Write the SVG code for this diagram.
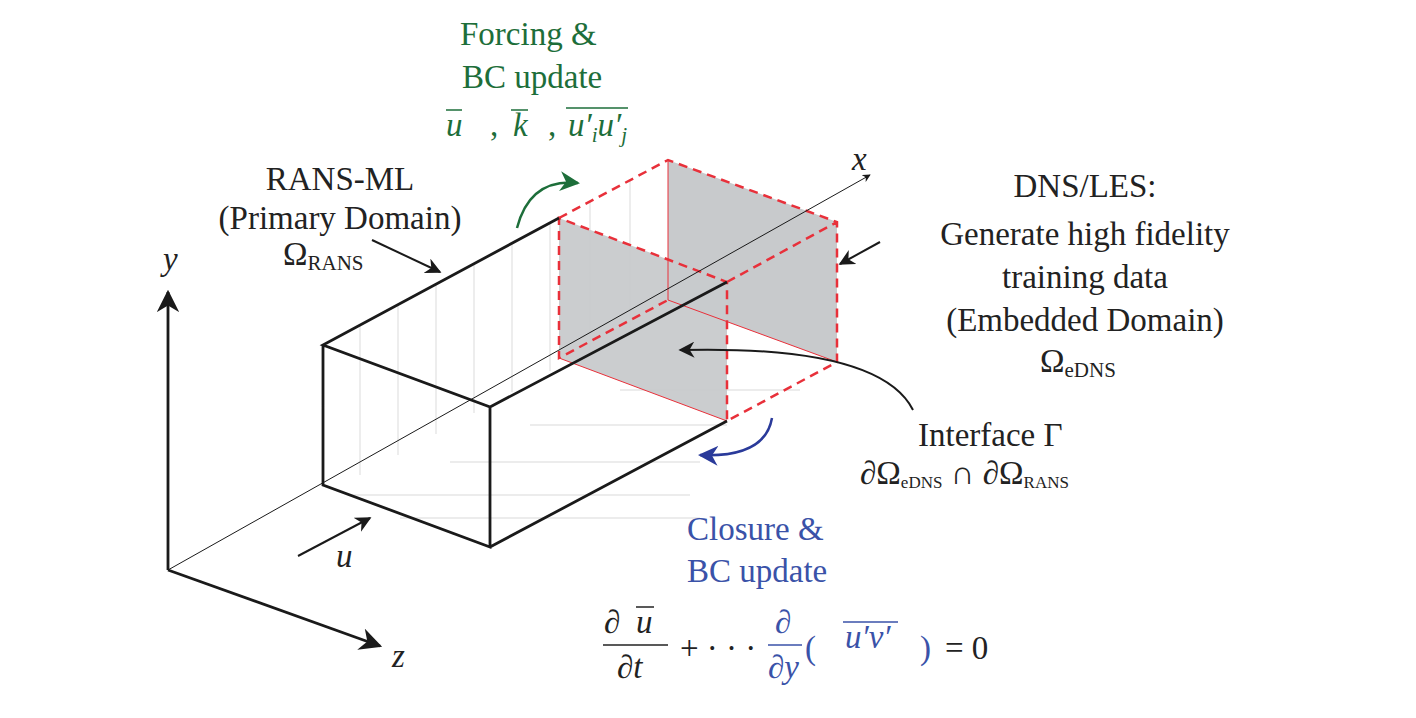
<svg xmlns="http://www.w3.org/2000/svg" width="1416" height="718" viewBox="0 0 1416 718" font-family="'Times New Roman', 'Liberation Serif', Tinos, serif">
<style>
text{font-family:'Times New Roman','Liberation Serif',Tinos,serif;font-size:33px;fill:#222}
.g{fill:#1d6e3a}.b{fill:#3a52a8}
.sm{font-size:21px}
.box{stroke:#1a1a1a;stroke-width:2.8;fill:none}
.rd{stroke:#e8303a;stroke-width:2.5;stroke-dasharray:9,6;fill:none}
.rt{stroke:#e8303a;stroke-width:1;fill:none}
.fa{stroke:#ececec;stroke-width:1.8}
</style>
<defs>
<marker id="ak" viewBox="0 0 10 10" refX="9" refY="5" markerWidth="8" markerHeight="8" orient="auto"><path d="M0,0L10,5L0,10L3,5z" fill="#1a1a1a"/></marker>
<marker id="ag" viewBox="0 0 10 10" refX="9" refY="5" markerWidth="8" markerHeight="8" orient="auto"><path d="M0,0L10,5L0,10L3,5z" fill="#1d6e3a"/></marker>
<marker id="ab" viewBox="0 0 10 10" refX="9" refY="5" markerWidth="8" markerHeight="8" orient="auto"><path d="M0,0L10,5L0,10L3,5z" fill="#2a3a9a"/></marker>
</defs>
<g id="faint">
<path class="fa" d="M360,325V475M398,305V455M436,284V434M474,264V413M512,243V392M550,223V371M590,201V350M630,180V328M700,171V290M740,186V268M780,201V245M815,214V232M350,495H690M400,518H700M450,462H700M530,425H727M620,390H800"/>
</g>
<g id="panels">
<polygon points="668,160 837,222 837,362 668,300" fill="#c8cacc"/>
<polygon points="559,218 727,282 727,421 559,358" fill="#c8cacc" opacity="0.95"/>
<path class="rt" d="M668,160V300L837,362M559,358L727,421"/>
<path class="rd" d="M559,218L668,160L837,222V362L727,421V282L559,218V358L668,300M727,282L837,222"/>
</g>
<g id="axes">
<line x1="168" y1="570" x2="168" y2="292" class="box" marker-end="url(#ak)"/>
<line x1="168" y1="570" x2="380" y2="646" class="box" marker-end="url(#ak)"/>
<line x1="168" y1="570" x2="870" y2="175" stroke="#1a1a1a" stroke-width="1" marker-end="url(#ak)"/>
</g>
<g id="box">
<path class="box" d="M323,345V485L490,547V407L323,345L559,218M490,407L727,282M490,547L727,421"/>
</g>
<g id="connectors" fill="none">
<path d="M517,228Q530,178 578,183" stroke="#1d6e3a" stroke-width="2.5" marker-end="url(#ag)"/>
<path d="M772,418Q765,458 700,455" stroke="#2a3a9a" stroke-width="2.5" marker-end="url(#ab)"/>
<path d="M913,410Q880,345 680,350" stroke="#1a1a1a" stroke-width="2" marker-end="url(#ak)"/>
<path d="M372,240L440,272" stroke="#1a1a1a" stroke-width="2" marker-end="url(#ak)"/>
<path d="M880,242L840,264" stroke="#1a1a1a" stroke-width="2" marker-end="url(#ak)"/>
<path d="M298,556L370,518" stroke="#1a1a1a" stroke-width="2" marker-end="url(#ak)"/>
</g>
<g id="labels">
<text x="460" y="45" class="g">Forcing &amp;</text>
<text x="462" y="88" class="g">BC update</text>
<text x="446" y="136" class="g" font-style="italic">u</text>
<line x1="446" y1="110" x2="462" y2="110" stroke="#1d6e3a" stroke-width="1.5"/>
<text x="490" y="136" class="g">,</text>
<text x="513" y="136" class="g" font-style="italic">k</text>
<line x1="511" y1="110" x2="528" y2="110" stroke="#1d6e3a" stroke-width="1.5"/>
<text x="548" y="136" class="g">,</text>
<text x="568" y="136" class="g" font-style="italic">u′<tspan class="sm" dy="6">i</tspan><tspan dy="-6">u′</tspan><tspan class="sm" dy="6">j</tspan></text>
<line x1="566" y1="108" x2="628" y2="108" stroke="#1d6e3a" stroke-width="1.5"/>
<text x="340" y="190" text-anchor="middle">RANS-ML</text>
<text x="340" y="229" text-anchor="middle">(Primary Domain)</text>
<text x="283" y="265">Ω<tspan class="sm" dy="5">RANS</tspan></text>
<text x="163" y="270" font-style="italic">y</text>
<text x="852" y="170" font-style="italic">x</text>
<text x="392" y="667" font-style="italic">z</text>
<text x="336" y="567" font-style="italic">u</text>
<text x="1085" y="197" text-anchor="middle">DNS/LES:</text>
<text x="1085" y="245" text-anchor="middle">Generate high fidelity</text>
<text x="1085" y="288" text-anchor="middle">training data</text>
<text x="1085" y="331" text-anchor="middle">(Embedded Domain)</text>
<text x="1040" y="372">Ω<tspan class="sm" dy="5">eDNS</tspan></text>
<text x="918" y="446">Interface Γ</text>
<text x="860" y="484" font-size="25">∂Ω<tspan font-size="17" dy="4">eDNS</tspan><tspan dy="-4"> ∩ ∂Ω</tspan><tspan font-size="17" dy="4">RANS</tspan></text>
<text x="687" y="540" class="b">Closure &amp;</text>
<text x="687" y="582" class="b">BC update</text>
</g>
<g id="equation">
<text x="604" y="633">∂</text>
<text x="636" y="633" font-style="italic">u</text>
<line x1="636" y1="607" x2="654" y2="607" stroke="#222" stroke-width="1.5"/>
<line x1="603" y1="645" x2="668" y2="645" stroke="#222" stroke-width="1.5"/>
<text x="617" y="678">∂<tspan font-style="italic">t</tspan></text>
<text x="680" y="659">+ · · ·</text>
<text x="775" y="633" class="b">∂</text>
<line x1="768" y1="645" x2="802" y2="645" stroke="#3a52a8" stroke-width="1.5"/>
<text x="768" y="678" class="b">∂<tspan font-style="italic">y</tspan></text>
<text x="805" y="659" class="b">(</text>
<text x="845" y="648" class="b" font-style="italic">u′v′</text>
<line x1="843" y1="622" x2="898" y2="622" stroke="#3a52a8" stroke-width="1.5"/>
<text x="920" y="659" class="b">)</text>
<text x="945" y="659">= 0</text>
</g>
</svg>
